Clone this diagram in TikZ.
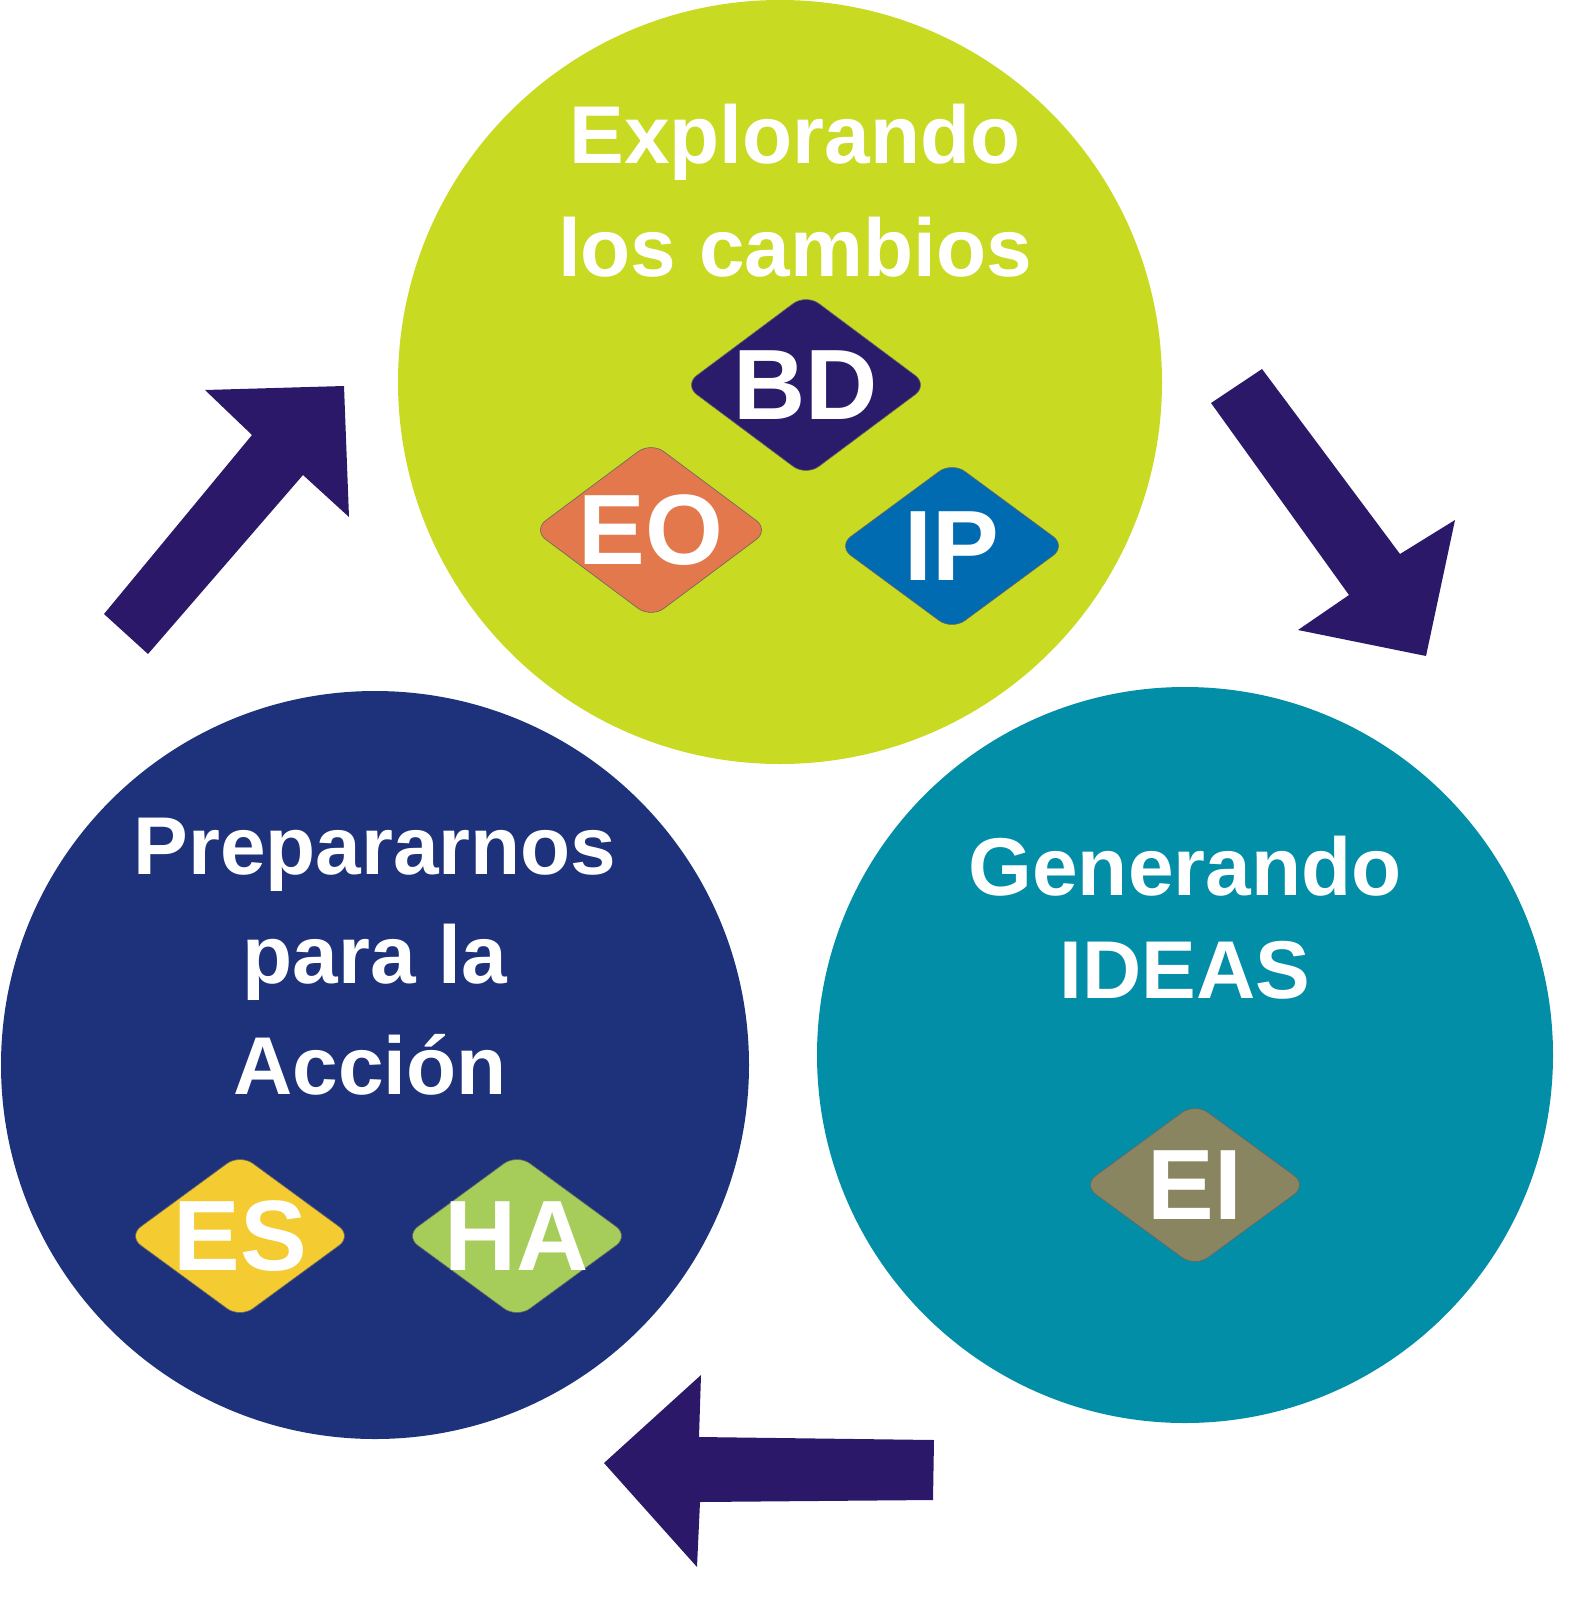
\documentclass[tikz,border=0pt]{standalone}
\usepackage{fontspec}
\setmainfont{Liberation Sans}
\definecolor{cgreen}{HTML}{C8DA22}
\definecolor{cnavy}{HTML}{1E327C}
\definecolor{cteal}{HTML}{028EA6}
\definecolor{carrow}{HTML}{2B1869}
\definecolor{cbd}{HTML}{2A1B6B}
\definecolor{ceo}{HTML}{E2784B}
\definecolor{cip}{HTML}{006BB0}
\definecolor{cei}{HTML}{8A8561}
\definecolor{ces}{HTML}{F4CB30}
\definecolor{cha}{HTML}{A6CD5A}
\tikzset{
 dtxt/.style={text=white, font=\bfseries\fontsize{100}{100}\selectfont, inner sep=0pt},
 dshape/.style={rounded corners=16pt, draw=black!60, line width=0.6pt},
 ttl/.style={text=white, font=\bfseries\fontsize{82}{82}\selectfont, align=center},
 arr/.style={fill=carrow}
}
\newcommand{\mydia}[6]{% name, x, y, halfw, halfh, color, text
 \fill[#6] (#2-#4,#3) -- (#2,#3-#5) -- (#2+#4,#3) -- (#2,#3+#5) -- cycle;
}
\newcommand{\dia}[7]{%
 \path[dshape, fill=#6] (#2-#4,#3) -- (#2,#3-#5) -- (#2+#4,#3) -- (#2,#3+#5) -- cycle;
 \node[dtxt] (#1) at (#2,#3) {#7};
}
\begin{document}
\begin{tikzpicture}[x=1pt,y=-1pt]
\useasboundingbox (0,0) rectangle (1584,1600);
\fill[cgreen] (780,382) circle (382);
\fill[cnavy] (375,1065) circle (374);
\fill[cteal] (1185,1055) circle (368);
\node[ttl] (t1a) at (795,142) {Explorando};
\node[ttl] (t1b) at (795,247) {los cambios};
\node[ttl] (t2a) at (375,855) {Prepararnos};
\node[ttl] (t2b) at (375,962) {para la};
\node[ttl] (t2c) at (370,1065) {Acción};
\node[ttl] (t3a) at (1185,866) {Generando};
\node[ttl] (t3b) at (1185,970) {IDEAS};
\dia{bd}{806}{385}{122}{91}{cbd}{BD}
\dia{eo}{651}{530}{118}{88}{ceo}{EO}
\dia{ip}{952}{546}{114}{84}{cip}{IP}
\dia{ei}{1195}{1185}{112}{82}{cei}{EI}
\dia{es}{240}{1236}{112}{82}{ces}{ES}
\dia{ha}{517}{1236}{112}{82}{cha}{HA}
\fill[arr] (104,614) -- (252,435) -- (205,390) -- (344,386) -- (349,517) -- (303,475) -- (148,654) -- cycle;
\fill[arr] (1211,403) -- (1262,369) -- (1400,554) -- (1455,520) -- (1426,656) -- (1298,630) -- (1349,595) -- cycle;
\fill[arr] (934,1440) -- (699,1437) -- (701,1375) -- (604,1463) -- (697,1567) -- (700,1502) -- (933,1500) -- cycle;
\end{tikzpicture}
\end{document}
